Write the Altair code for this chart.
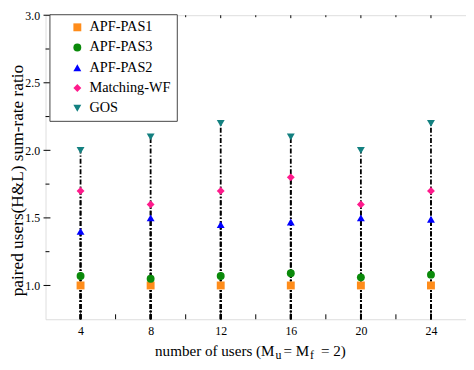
import altair as alt
import pandas as pd

users = [4, 8, 12, 16, 20, 24]
series_names = ["APF-PAS1", "APF-PAS3", "APF-PAS2", "Matching-WF", "GOS"]
apf_pas1 = [1.00, 1.00, 1.00, 1.00, 1.00, 1.00]
apf_pas3 = [1.07, 1.05, 1.07, 1.09, 1.06, 1.08]
apf_pas2 = [1.40, 1.50, 1.45, 1.47, 1.50, 1.49]
matching_wf = [1.70, 1.60, 1.70, 1.80, 1.60, 1.70]
gos = [2.00, 2.10, 2.20, 2.10, 2.00, 2.20]

x_labels = [4, 8, 12, 16, 20, 24]
x_minor = [6, 10, 14, 18, 22]
y_labels = [1.0, 1.5, 2.0, 2.5, 3.0]
y_minor = [1.25, 1.75, 2.25, 2.75]

colors = ["#FF8C1A", "#0A8A0A", "#0000FF", "#FF1A8C", "#138080"]
shapes = ["square", "circle", "triangle-up", "diamond", "triangle-down"]

W, H = 426, 308
FONT = "Liberation Serif"
LFONT = "Times New Roman"

rows = []
for name, vals in zip(series_names, [apf_pas1, apf_pas3, apf_pas2, matching_wf, gos]):
    for u, v in zip(users, vals):
        rows.append({"users": u, "value": v, "series": name})
df = pd.DataFrame(rows)

xs = alt.Scale(domain=[2, 26], nice=False, zero=False)
ys = alt.Scale(domain=[0.75, 3.0], nice=False, zero=False)

base = alt.Chart(df)

stems = base.transform_calculate(base="0.75").mark_rule(
    color="black", strokeWidth=1.8, strokeDash=[5, 2, 1.5, 2]).encode(
    x=alt.X("users:Q", scale=xs,
            axis=alt.Axis(values=x_labels, title=None, ticks=False, tickSize=0, domain=False,
                          grid=False, labelFont=FONT, labelFontSize=12, labelColor="black",
                          labelPadding=6)),
    y=alt.Y("base:Q", scale=ys,
            axis=alt.Axis(values=y_labels, format=".1f", ticks=False, tickSize=0, domain=False,
                          grid=False, labelFont=FONT, labelFontSize=12, labelColor="black",
                          labelPadding=6,
                          title="paired users(H&L) sum-rate ratio", titleFont=FONT,
                          titleFontSize=17.5, titleFontWeight="normal", titleColor="black",
                          titleX=-28, titleY=167, titleAngle=270, titleBaseline="middle",
                          titleAlign="center")),
    y2=alt.Y2("value:Q"),
)

def make_legend():
    return alt.Legend(orient="none", legendX=4, legendY=-1, title=None,
                      padding=6, rowPadding=5.5, symbolOffset=15, labelOffset=5,
                      labelFont=LFONT, labelFontSize=14.5, labelColor="black",
                      strokeColor="#444", fillColor="white", symbolSize=64,
                      symbolStrokeWidth=0)

points = base.mark_point(filled=True, size=64, opacity=1, strokeWidth=0).encode(
    x=alt.X("users:Q", scale=xs),
    y=alt.Y("value:Q", scale=ys),
    color=alt.Color("series:N", scale=alt.Scale(domain=series_names, range=colors),
                    legend=make_legend()),
    shape=alt.Shape("series:N", scale=alt.Scale(domain=series_names, range=shapes),
                    legend=make_legend()),
)

xmaj = pd.DataFrame({"t": x_labels})
xmin = pd.DataFrame({"t": x_minor})
ymaj = pd.DataFrame({"t": y_labels})
ymin = pd.DataFrame({"t": y_minor})

tick_style = dict(color="black", strokeWidth=1)
tk = [
    alt.Chart(xmaj).mark_rule(**tick_style).encode(x=alt.X("t:Q", scale=xs), y=alt.value(H), y2=alt.value(H - 6)),
    alt.Chart(xmin).mark_rule(**tick_style).encode(x=alt.X("t:Q", scale=xs), y=alt.value(H), y2=alt.value(H - 5)),
    alt.Chart(xmaj).mark_rule(**tick_style).encode(x=alt.X("t:Q", scale=xs), y=alt.value(0), y2=alt.value(3)),
    alt.Chart(xmin).mark_rule(**tick_style).encode(x=alt.X("t:Q", scale=xs), y=alt.value(0), y2=alt.value(2)),
    alt.Chart(ymaj).mark_rule(**tick_style).encode(y=alt.Y("t:Q", scale=ys), x=alt.value(-2), x2=alt.value(5)),
    alt.Chart(ymin).mark_rule(**tick_style).encode(y=alt.Y("t:Q", scale=ys), x=alt.value(0), x2=alt.value(4)),
]

one = pd.DataFrame({"a": [0]})
TY = 340
def txt(s, x, y, size):
    return alt.Chart(one).mark_text(align="left", baseline="middle", font=FONT, fontSize=size,
                                    color="black").encode(
        x=alt.value(x), y=alt.value(y), text=alt.value(s))

xtitle = [
    txt("number of users (M", 111, TY, 15.3),
    txt("u", 233, TY + 4, 12),
    txt("= M", 241, TY, 15.3),
    txt("f", 268, TY + 4, 12),
    txt("= 2)", 279, TY, 15.3),
]

chart = alt.layer(stems, *tk, points, *xtitle).properties(
    width=W, height=H,
    autosize=alt.AutoSizeParams(type="none"),
    padding={"left": 38, "top": 5, "right": 0, "bottom": 41},
).configure_view(stroke="#222", strokeWidth=1.5).configure(background="white").configure_legend(
    labelFont=LFONT, labelFontSize=14.5)

chart.save("out.html", embed_options={"renderer": "svg", "actions": False})
